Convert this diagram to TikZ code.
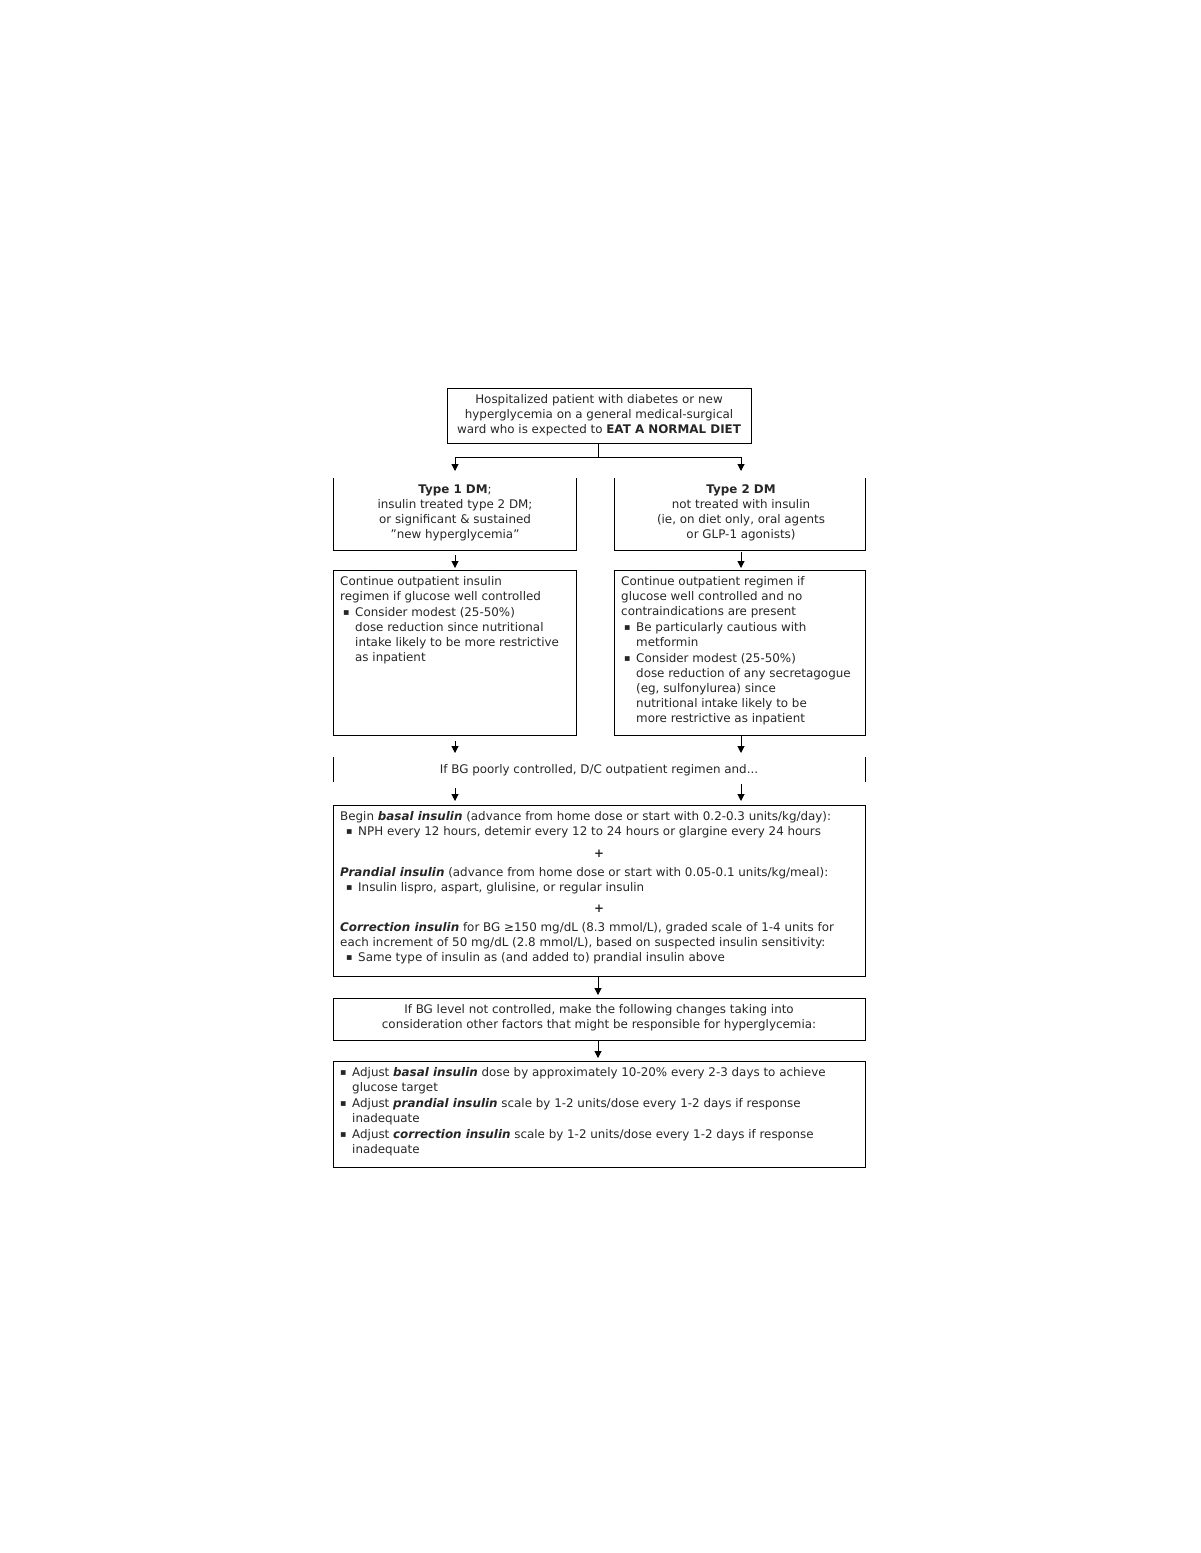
\documentclass[tikz,border=0pt]{standalone}
\usepackage{fontspec}
\setmainfont{DejaVu Sans}
\usetikzlibrary{arrows.meta}
\newcommand\bq{\makebox[12pt][l]{\raisebox{1pt}{\scalebox{0.8}{▪}}}}
\newcommand\ind{\hspace*{12pt}}
\begin{document}
\begin{tikzpicture}[x=1pt,y=-1pt,
  bx/.style={draw,line width=1pt},
  ln/.style={line width=1pt},
  ar/.style={line width=1pt,-{Triangle[length=7pt,width=7pt]}},
  tx/.style={inner sep=0pt,font=\fontsize{11.9}{15}\selectfont},
  every node/.style={text=black!85}]
\useasboundingbox (0,0) rectangle (1200,1553);
% top
\draw[bx] (447,388) rectangle (751,443);
\node[tx,align=center] (top) at (599,415.5) {Hospitalized patient with diabetes or new\\hyperglycemia on a general medical-surgical\\ward who is expected to \textbf{EAT A NORMAL DIET}};
\coordinate (tb) at (598,443);
\coordinate (br) at (598,457);
\coordinate (bl) at (455,457);
\coordinate (brr) at (741,457);
\draw[ln] (tb) -- (br);
\draw[ln] (bl) -- (brr);
\coordinate (la) at (455,471);
\coordinate (ra) at (741,471);
\draw[ar] (bl) -- (la);
\draw[ar] (brr) -- (ra);
% type boxes (open top)
\draw[ln] (333,478) -- (333,550) -- (576,550) -- (576,478);
\draw[ln] (614,478) -- (614,550) -- (865,550) -- (865,478);
\node[tx,align=center] (t1) at (455,513) {\textbf{Type 1 DM};\\insulin treated type 2 DM;\\or significant \& sustained\\"new hyperglycemia"};
\node[tx,align=center] (t2) at (741,513) {\textbf{Type 2 DM}\\not treated with insulin\\(ie, on diet only, oral agents\\or GLP-1 agonists)};
\coordinate (a1s) at (455,555); \coordinate (a1e) at (455,568);
\coordinate (a2s) at (741,552); \coordinate (a2e) at (741,568);
\draw[ar] (a1s) -- (a1e);
\draw[ar] (a2s) -- (a2e);
% continue boxes
\draw[bx] (333,570) rectangle (576,735);
\draw[bx] (614,570) rectangle (865,735);
\node[tx,align=left,anchor=north west] (c1) at (340,576) {Continue outpatient insulin\\regimen if glucose well controlled\\[1pt]
\hspace*{3pt}\bq Consider modest (25-50\%)\\\hspace*{3pt}\ind dose reduction since nutritional\\\hspace*{3pt}\ind intake likely to be more restrictive\\\hspace*{3pt}\ind as inpatient};
\node[tx,align=left,anchor=north west] (c2) at (621,576) {Continue outpatient regimen if\\glucose well controlled and no\\contraindications are present\\[1pt]
\hspace*{3pt}\bq Be particularly cautious with\\\hspace*{3pt}\ind metformin\\[1pt]
\hspace*{3pt}\bq Consider modest (25-50\%)\\\hspace*{3pt}\ind dose reduction of any secretagogue\\\hspace*{3pt}\ind (eg, sulfonylurea) since\\\hspace*{3pt}\ind nutritional intake likely to be\\\hspace*{3pt}\ind more restrictive as inpatient};
\coordinate (b1s) at (455,741); \coordinate (b1e) at (455,753);
\coordinate (b2s) at (741,735); \coordinate (b2e) at (741,753);
\draw[ar] (b1s) -- (b1e);
\draw[ar] (b2s) -- (b2e);
% poorly controlled
\draw[ln] (333,757) -- (333,782);
\draw[ln] (865,757) -- (865,782);
\node[tx] (pc) at (599,770) {If BG poorly controlled, D/C outpatient regimen and...};
\coordinate (d1s) at (455,788); \coordinate (d1e) at (455,801);
\coordinate (d2s) at (741,784); \coordinate (d2e) at (741,801);
\draw[ar] (d1s) -- (d1e);
\draw[ar] (d2s) -- (d2e);
% big box
\draw[bx] (333,805) rectangle (865,976);
\node[tx,align=left,anchor=north west] (big) at (340,811) {Begin \textbf{\textit{basal insulin}} (advance from home dose or start with 0.2-0.3 units/kg/day):\\
\hspace*{6pt}\bq NPH every 12 hours, detemir every 12 to 24 hours or glargine every 24 hours\\[7pt]
\hspace*{254pt}\textbf{+}\\[4pt]
\textbf{\textit{Prandial insulin}} (advance from home dose or start with 0.05-0.1 units/kg/meal):\\
\hspace*{6pt}\bq Insulin lispro, aspart, glulisine, or regular insulin\\[6pt]
\hspace*{254pt}\textbf{+}\\[4pt]
\textbf{\textit{Correction insulin}} for BG ≥150 mg/dL (8.3 mmol/L), graded scale of 1-4 units for\\
each increment of 50 mg/dL (2.8 mmol/L), based on suspected insulin sensitivity:\\
\hspace*{6pt}\bq Same type of insulin as (and added to) prandial insulin above};
\coordinate (e1) at (598,976); \coordinate (e2) at (598,995);
\draw[ar] (e1) -- (e2);
\draw[bx] (333,998) rectangle (865,1040);
\node[tx,align=center] (nc) at (599,1018) {If BG level not controlled, make the following changes taking into\\consideration other factors that might be responsible for hyperglycemia:};
\coordinate (f1) at (598,1040); \coordinate (f2) at (598,1058);
\draw[ar] (f1) -- (f2);
\draw[bx] (333,1061) rectangle (865,1167);
\node[tx,align=left,anchor=north west] (adj) at (340,1067) {\bq Adjust \textbf{\textit{basal insulin}} dose by approximately 10-20\% every 2-3 days to achieve\\\ind glucose target\\[1pt]
\bq Adjust \textbf{\textit{prandial insulin}} scale by 1-2 units/dose every 1-2 days if response\\\ind inadequate\\[1pt]
\bq Adjust \textbf{\textit{correction insulin}} scale by 1-2 units/dose every 1-2 days if response\\\ind inadequate};
\end{tikzpicture}
\end{document}
